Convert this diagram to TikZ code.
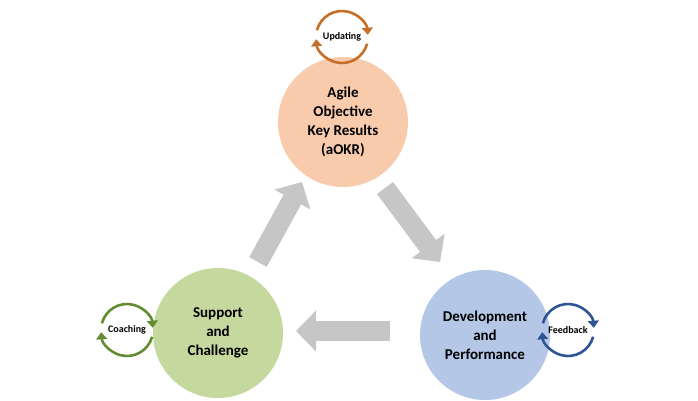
\documentclass[tikz,border=0pt]{standalone}
\usepackage{fontspec}
\setmainfont{Carlito}
\usetikzlibrary{arrows.meta,calc}
\definecolor{okrfill}{RGB}{248,203,173}
\definecolor{supfill}{RGB}{197,216,158}
\definecolor{devfill}{RGB}{180,199,231}
\definecolor{updcol}{RGB}{197,110,40}
\definecolor{coachcol}{RGB}{98,140,50}
\definecolor{feedcol}{RGB}{46,84,150}
\tikzset{
  stage/.style={circle, minimum size=130pt, inner sep=0pt, align=center,
    font=\fontsize{15}{19}\selectfont\bfseries},
  flow/.style={draw=gray!45, line width=20pt, -{Triangle[length=20pt,width=40pt]}},
  loopline/.style={line width=2.6pt, -{Triangle[length=7pt,width=11pt]}},
  looplabel/.style={font=\fontsize{10}{11}\selectfont\bfseries}
}
\newcommand{\cyclemark}[4]{% centre, colour, name, text
  \node[looplabel] (#3) at (#1) {#4};
  \draw[loopline, draw=#2] ($(#1)+(165:26pt)$) arc (165:5:26pt);
  \draw[loopline, draw=#2] ($(#1)+(-15:26pt)$) arc (-15:-175:26pt);
}
\begin{document}
\begin{tikzpicture}[x=1pt,y=-1pt]
  \useasboundingbox (0,0) rectangle (698,400);
  \node[stage, fill=okrfill] (okr) at (343,122)
    {Agile\\Objective\\Key Results\\(aOKR)};
  \node[stage, fill=supfill] (sup) at (218,333)
    {Support\\and\\Challenge};
  \node[stage, fill=devfill] (dev) at (485,335)
    {Development\\and\\Performance};
  % cycle marks
  \cyclemark{342,37}{updcol}{upd}{Updating}
  \cyclemark{127,330}{coachcol}{coach}{Coaching}
  \cyclemark{568,330}{feedcol}{feed}{Feedback}
  % flow arrows
  \draw[flow] (258,262) -- (302,182);
  \draw[flow] (385,188) -- (440,262);
  \draw[flow] (390,331) -- (296,331);
\end{tikzpicture}
\end{document}
